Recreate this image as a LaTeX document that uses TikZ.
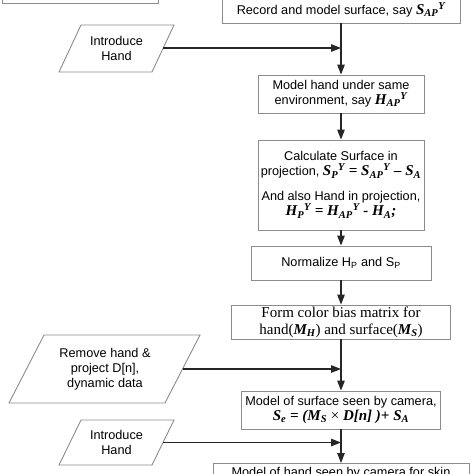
\documentclass[tikz,border=0pt]{standalone}
\usepackage{fontspec}
\setmainfont{Liberation Sans}
\newfontfamily\tms{Liberation Serif}
\usetikzlibrary{arrows.meta}
\newcommand\bim[1]{{\tms\fontsize{15}{17}\selectfont\bfseries\itshape #1}}
\newcommand\sanstxt{\fontsize{12.7}{15}\selectfont}
\begin{document}
\begin{tikzpicture}[x=1pt,y=-1pt,
  box/.style={draw=black!45, line width=0.9pt, fill=white, align=center, inner sep=0pt, font=\sanstxt},
  arr/.style={draw=black!85, line width=1.2pt, -{Triangle[length=10pt,width=7.5pt]}},
  para/.style={draw=black!45, line width=0.9pt},
  lbl/.style={align=center, inner sep=0pt, font=\sanstxt}]
\useasboundingbox (0,0) rectangle (474,474);
\fill[white] (0,0) rectangle (474,474);

\node[box, minimum width=156pt, minimum height=30pt] (tl) at (80,-12) {};
\node[box, minimum width=238pt, minimum height=26pt] (rec) at (341,10)
  {Record and model surface, say \bim{S\textsubscript{AP}\textsuperscript{Y}}};
\node[box, minimum width=166pt, minimum height=38pt] (hap) at (341,94)
  {Model hand under same\\environment, say \bim{H\textsubscript{AP}\textsuperscript{Y}}};
\node[box, minimum width=166pt, minimum height=90pt] (calc) at (341,185)
  {Calculate Surface in\\projection, \bim{S\textsubscript{P}\textsuperscript{Y} = S\textsubscript{AP}\textsuperscript{Y} – S\textsubscript{A}}\\[10pt]
   And also Hand in projection,\\\bim{H\textsubscript{P}\textsuperscript{Y} = H\textsubscript{AP}\textsuperscript{Y} - H\textsubscript{A};}};
\node[box, minimum width=180pt, minimum height=34pt] (norm) at (341,263)
  {Normalize H\textsubscript{P} and S\textsubscript{P}};
\node[box, minimum width=219pt, minimum height=34pt, font=\tms\fontsize{15}{17}\selectfont] (form) at (341,322)
  {Form color bias matrix for\\hand(\bim{M\textsubscript{H}}) and surface(\bim{M\textsubscript{S}})};
\node[box, minimum width=199pt, minimum height=38pt] (surf) at (341,410)
  {Model of surface seen by camera,\\\bim{S\textsubscript{e} = (M\textsubscript{S} {\mdseries\upshape ×} D[n] )+ S\textsubscript{A}}};
\node[box, minimum width=256pt, anchor=north, inner ysep=4pt, text depth=30pt] (hcam) at (341,463)
  {Model of hand seen by camera for skin};

\draw[arr] (rec.south) -- (hap.north);
\draw[arr] (hap.south) -- (calc.north);
\draw[arr] (calc.south) -- (norm.north);
\draw[arr] (norm.south) -- (form.north);
\draw[arr] (form.south) -- (surf.north);
\draw[arr] (surf.south) -- (hcam.north);

\draw[para] (81,25) -- (174,25) -- (152,72) -- (59,72) -- cycle;
\node[lbl] (ih1) at (116.5,48) {Introduce\\Hand};
\coordinate (ih1r) at (163,48);
\draw[arr] (ih1r) -- (ih1r -| rec.south);

\draw[para] (44,335) -- (200,335) -- (165,403) -- (9,403) -- cycle;
\node[lbl] (rm) at (105,369) {Remove hand \&\\project D[n],\\dynamic data};
\coordinate (rmr) at (182.5,369);
\draw[arr] (rmr) -- (rmr -| form.south);

\draw[para] (81,420) -- (174,420) -- (152,465) -- (59,465) -- cycle;
\node[lbl] (ih2) at (116.5,442.5) {Introduce\\Hand};
\coordinate (ih2r) at (163,442.5);
\draw[arr] (ih2r) -- (ih2r -| surf.south);
\end{tikzpicture}
\end{document}
